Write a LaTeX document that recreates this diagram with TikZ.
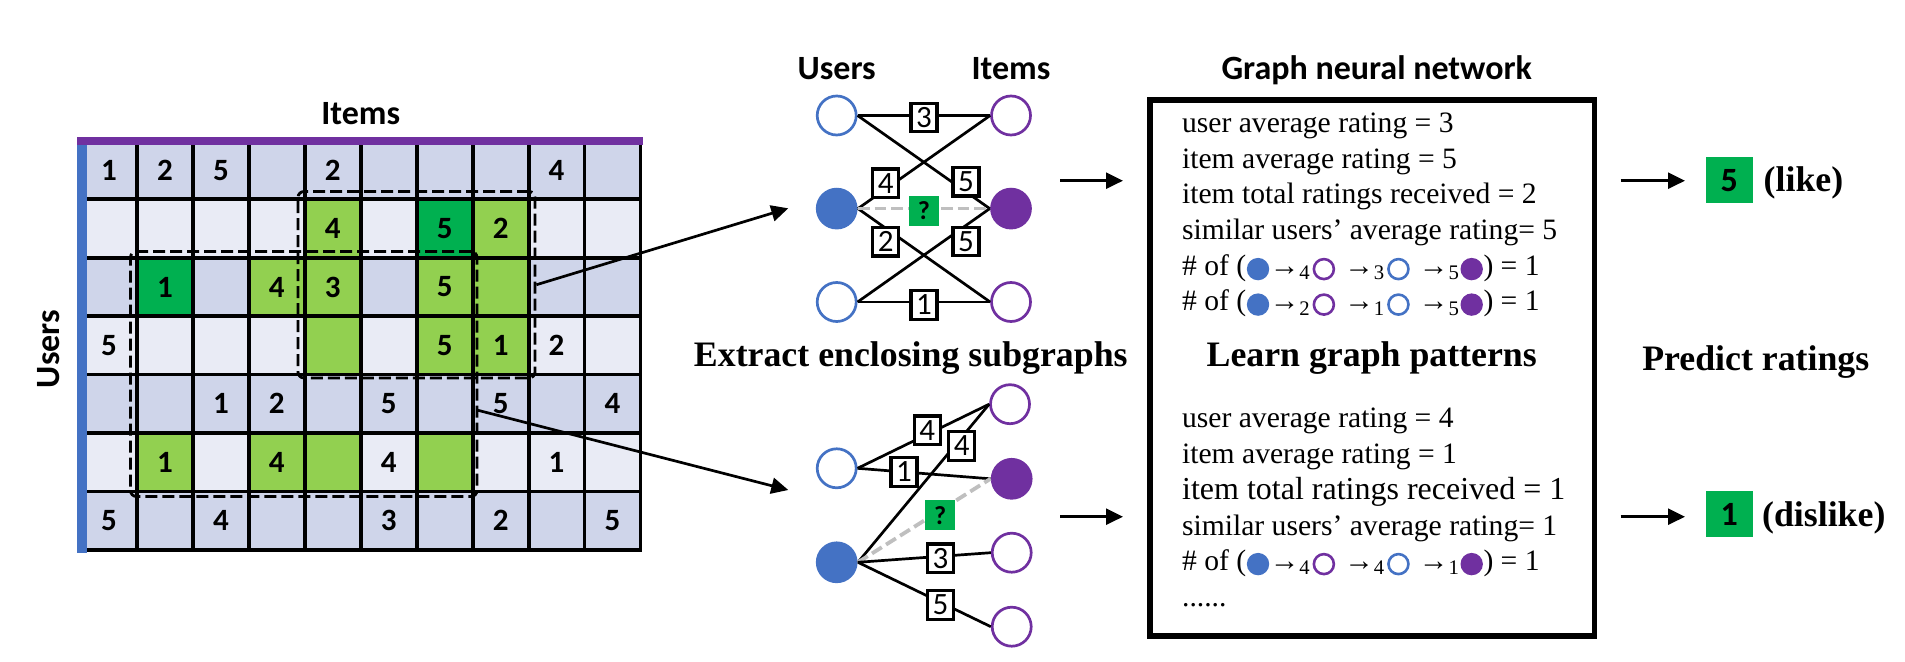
\documentclass[tikz,border=0pt]{standalone}
\usepackage{fontspec}
\setmainfont{Liberation Serif}
\newfontfamily\calib{Carlito}
\usetikzlibrary{arrows.meta}
\definecolor{ublue}{HTML}{4472C4}
\definecolor{ipurple}{HTML}{7030A0}
\definecolor{dgreen}{HTML}{00B050}
\definecolor{lgreen}{HTML}{92D050}
\definecolor{banda}{HTML}{CFD5EA}
\definecolor{bandb}{HTML}{E9EBF5}
\definecolor{qgray}{HTML}{BFBFBF}
\newcommand{\icuf}{\hspace{0.3pt}\tikz[baseline=-3.2pt]\fill[ublue](0,0) circle (5.6pt);\hspace{0.3pt}}
\newcommand{\icpf}{\hspace{0.3pt}\tikz[baseline=-3.2pt]\fill[ipurple](0,0) circle (5.6pt);\hspace{0.3pt}}
\newcommand{\icuo}{\hspace{0.9pt}\tikz[baseline=-3.2pt]\draw[ublue,line width=1.3pt](0,0) circle (5pt);\hspace{0.9pt}}
\newcommand{\icpo}{\hspace{0.9pt}\tikz[baseline=-3.2pt]\draw[ipurple,line width=1.3pt](0,0) circle (5pt);\hspace{0.9pt}}
\newcommand{\arsub}[1]{→\textsubscript{#1}}
\tikzset{
 cellnum/.style={font=\calib\bfseries\fontsize{15.5}{16}\selectfont, inner sep=0pt},
 gridline/.style={line width=1.9pt, line cap=rect},
 dbox/.style={draw, line width=1.4pt, dash pattern=on 6pt off 2.5pt, rounded corners=3pt, inner sep=0pt},
 arr/.style={line width=1.35pt, -{Triangle[length=8.5pt,width=8pt]}},
 hcal/.style={font=\calib\bfseries\fontsize{17}{20}\selectfont, inner sep=0pt},
 uo/.style={circle, draw=ublue, line width=1.35pt, fill=white, minimum size=19.5pt, inner sep=0pt},
 po/.style={circle, draw=ipurple, line width=1.35pt, fill=white, minimum size=19.5pt, inner sep=0pt},
 uf/.style={circle, fill=ublue, minimum size=20.85pt, inner sep=0pt},
 pf/.style={circle, fill=ipurple, minimum size=20.85pt, inner sep=0pt},
 gedge/.style={line width=1.35pt},
 qedge/.style={line width=1.9pt, draw=qgray, dash pattern=on 5.8pt off 2.5pt},
 rlab/.style={draw, line width=1.65pt, fill=white, inner sep=0pt, minimum width=13pt, minimum height=14.2pt, font=\calib\fontsize{15.5}{16}\selectfont},
 qbox/.style={fill=dgreen, inner sep=0pt, minimum size=15pt, font=\calib\bfseries\fontsize{13}{14}\selectfont},
 gtxt/.style={anchor=base west, inner sep=0pt, font=\fontsize{14.8}{17}\selectfont},
 btxt/.style={inner sep=0pt, font=\bfseries\fontsize{17.9}{20}\selectfont},
 obox/.style={fill=dgreen, inner sep=0pt, minimum width=23.35pt, minimum height=23pt, font=\calib\bfseries\fontsize{17}{20}\selectfont},
}
\begin{document}
\begin{tikzpicture}[x=0.5pt,y=-0.5pt]
\useasboundingbox (0,0) rectangle (1905,662);
% ---------- rating matrix ----------
\foreach \rowi in {1,...,7}{
  \ifodd\rowi
    \fill[banda] (81,{141+(\rowi-1)*58.4}) rectangle (640.5,{141+\rowi*58.4});
  \else
    \fill[bandb] (81,{141+(\rowi-1)*58.4}) rectangle (640.5,{141+\rowi*58.4});
  \fi
}
\foreach \rowi/\coli in {2/5,2/8,3/4,3/5,3/7,3/8,4/5,4/7,4/8,6/2,6/4,6/5,6/7}
  \fill[lgreen] ({81+(\coli-1)*55.95},{141+(\rowi-1)*58.4}) rectangle ++(55.95,58.4);
\foreach \rowi/\coli in {2/7,3/2}
  \fill[dgreen] ({81+(\coli-1)*55.95},{141+(\rowi-1)*58.4}) rectangle ++(55.95,58.4);
\foreach \k in {1,...,10}
  \draw[gridline] ({81+\k*55.95},141) -- ({81+\k*55.95},549.8);
\foreach \k in {1,...,7}
  \draw[gridline] (81,{141+\k*58.4}) -- (640.5,{141+\k*58.4});
\fill[ipurple] (76.7,136.7) rectangle (642.6,145);
\fill[ublue] (76.7,145) rectangle (87.3,552.7);
\foreach \rowi/\coli/\val in {1/1/1,1/2/2,1/3/5,1/5/2,1/9/4,
  2/5/4,2/7/5,2/8/2,
  3/2/1,3/4/4,3/5/3,3/7/5,
  4/1/5,4/7/5,4/8/1,4/9/2,
  5/3/1,5/4/2,5/6/5,5/8/5,5/10/4,
  6/2/1,6/4/4,6/6/4,6/9/1,
  7/1/5,7/3/4,7/6/3,7/8/2,7/10/5}
  \node[cellnum] (n\rowi-\coli) at ({81+(\coli-0.5)*55.95},{141+(\rowi-0.5)*58.4}) {\val};
\node[hcal, anchor=base] (mitems) at (360.7,125) {Items};
\node[hcal, rotate=90] (musers) at (49,349) {Users};
\node[dbox, minimum width=118.5pt, minimum height=93.25pt] (box1) at (416.5,284.75) {};
\node[dbox, minimum width=173.25pt, minimum height=122.5pt] (box2) at (303.75,374) {};
\coordinate (s2) at (476.8,410);
\coordinate (t1) at (788.3,208.3);
\coordinate (t2) at (788.3,490);
\draw[arr] (box1.east) -- (t1);
\draw[arr] (s2) -- (t2);
% ---------- upper subgraph ----------
\node[hcal, anchor=base] (gusers) at (836.7,79.3) {Users};
\node[hcal, anchor=base] (gitems) at (1011,79.3) {Items};
\node[uo] (ua) at (836.7,115.5) {};
\node[uf] (ub) at (836.7,208.6) {};
\node[uo] (uc) at (836.7,302) {};
\node[po] (ia) at (1011,115.5) {};
\node[pf] (ib) at (1011,208.6) {};
\node[po] (ic) at (1011,302) {};
\draw[gedge] (ua.east) -- node[rlab, yshift=-1pt] (la) {3} (ia.west);
\draw[gedge] (ua.east) -- node[rlab, pos=0.82, yshift=5pt] (lb) {5} (ib.west);
\draw[gedge] (ub.east) -- node[rlab, pos=0.21, yshift=2.85pt] (lc) {4} (ia.west);
\draw[gedge] (ub.east) -- node[rlab, pos=0.21, yshift=-6.75pt] (ld) {2} (ic.west);
\draw[gedge] (uc.east) -- node[rlab, pos=0.82, yshift=-8pt] (le) {5} (ib.west);
\draw[gedge] (uc.east) -- node[rlab, yshift=-1.5pt] (lf) {1} (ic.west);
\draw[qedge] (ub.east) -- node[qbox, yshift=-1pt] (q1) {?} (ib.west);
\coordinate (a1s) at (1060,180.7);
\coordinate (a1e) at (1123,180.7);
\draw[arr] (a1s) -- (a1e);
% ---------- lower subgraph ----------
\node[btxt, anchor=base] (extract) at (910.8,367) {Extract enclosing subgraphs};
\node[po] (ja) at (1010,404.2) {};
\node[uo] (va) at (836.7,468.3) {};
\node[pf] (jb) at (1011.7,478.8) {};
\node[uf] (vb) at (836.7,562.3) {};
\node[po] (jc) at (1011.7,552.7) {};
\node[po] (jd) at (1011.7,626.7) {};
\draw[gedge] (va.east) -- node[rlab, pos=0.53, yshift=2.1pt] (ma) {4} (ja.west);
\draw[gedge] (va.east) -- node[rlab, pos=0.35] (mb) {1} (jb.west);
\draw[gedge] (vb.east) -- node[rlab, pos=0.79, yshift=-4.3pt] (mc) {4} (ja.west);
\draw[qedge] (vb.east) -- node[qbox, pos=0.62, yshift=-2.4pt] (q2) {?} (jb.west);
\draw[gedge] (vb.east) -- node[rlab, pos=0.62, yshift=-1pt] (md) {3} (jc.west);
\draw[gedge] (vb.east) -- node[rlab, pos=0.62, yshift=-1.4pt] (me) {5} (jd.west);
\coordinate (a2s) at (1060,516.7);
\coordinate (a2e) at (1123,516.7);
\draw[arr] (a2s) -- (a2e);
% ---------- GNN box ----------
\node[hcal, anchor=base] (gnntitle) at (1376.7,79.3) {Graph neural network};
\node[draw, line width=2.75pt, inner sep=0pt, minimum width=222.25pt, minimum height=268pt] (gnn) at (1372.25,368) {};
\node[gtxt] (g1) at (1181.7,132.7) {user average rating = 3};
\node[gtxt] (g2) at (1181.7,168.3) {item average rating = 5};
\node[gtxt] (g3) at (1181.7,203.6) {item total ratings received = 2};
\node[gtxt] (g4) at (1181.7,239.3) {similar users’ average rating= 5};
\node[gtxt] (g5) at (1181.7,275.5) {\# of (\icuf\arsub{4}\icpo\ \arsub{3}\icuo\ \arsub{5}\icpf) = 1};
\node[gtxt] (g6) at (1181.7,311) {\# of (\icuf\arsub{2}\icpo\ \arsub{1}\icuo\ \arsub{5}\icpf) = 1};
\node[btxt, anchor=base] (learn) at (1371.7,367) {Learn graph patterns};
\node[gtxt] (h1) at (1181.7,427.3) {user average rating = 4};
\node[gtxt] (h2) at (1181.7,463.3) {item average rating = 1};
\node[gtxt, font=\fontsize{16}{18}\selectfont] (h3) at (1181.7,499) {item total ratings received = 1};
\node[gtxt] (h4) at (1181.7,535) {similar users’ average rating= 1};
\node[gtxt] (h5) at (1181.7,570.5) {\# of (\icuf\arsub{4}\icpo\ \arsub{4}\icuo\ \arsub{1}\icpf) = 1};
\node[gtxt] (h6) at (1181.7,606.7) {......};
% ---------- predictions ----------
\node[btxt, anchor=base] (predict) at (1755.8,370.5) {Predict ratings};
\coordinate (o1s) at (1620.7,180.7);
\coordinate (o1e) at (1685,180.7);
\coordinate (o2s) at (1620.7,516.7);
\coordinate (o2e) at (1685,516.7);
\draw[arr] (o1s) -- (o1e);
\draw[arr] (o2s) -- (o2e);
\node[obox] (p1) at (1729.3,180.3) {5};
\node[obox] (p2) at (1729.3,514.2) {1};
\node[btxt, anchor=base west] (like) at (1763.3,191.7) {(like)};
\node[btxt, anchor=base west] (dislike) at (1761.7,526) {(dislike)};
\end{tikzpicture}
\end{document}
